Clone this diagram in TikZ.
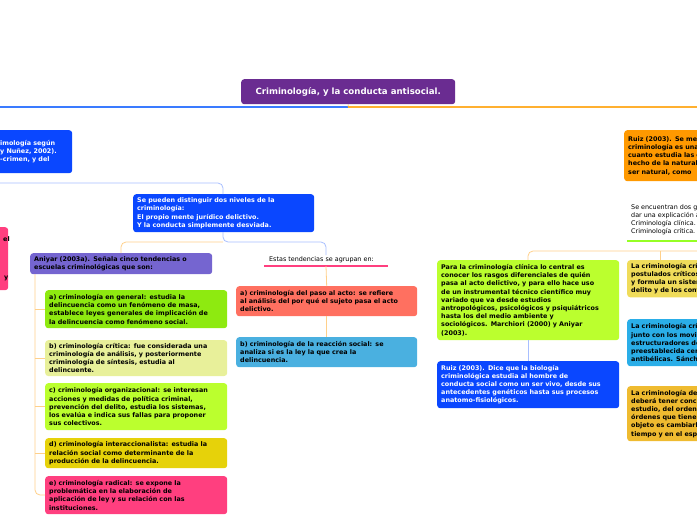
\documentclass[tikz,border=0pt]{standalone}
\usepackage{fontspec}
\setmainfont{DejaVu Sans}
\begin{document}
\begin{tikzpicture}[x=1pt,y=-1pt,
  box/.style={anchor=north west,rounded corners=3pt,inner xsep=4pt,inner ysep=3pt,align=left,font=\fontsize{6.4}{8.2}\selectfont\bfseries,text=black},
  plain/.style={anchor=north west,inner sep=0pt,align=left,font=\fontsize{6.4}{8.2}\selectfont},
  bl/.style={draw=lblue,line width=0.8pt,rounded corners=5pt},
  ol/.style={draw=lora,line width=0.8pt,rounded corners=5pt}]
\definecolor{lblue}{HTML}{A8BFFF}
\definecolor{lora}{HTML}{FFD08A}
\definecolor{mblue}{HTML}{3A7BFF}
\definecolor{mora}{HTML}{FFB030}
\definecolor{cpur}{HTML}{6A2C91}
\definecolor{cblue}{HTML}{0A47FF}
\definecolor{clav}{HTML}{7565D0}
\definecolor{cgr1}{HTML}{8EEA10}
\definecolor{cpale}{HTML}{E8F09A}
\definecolor{clime}{HTML}{BBFF2E}
\definecolor{cmus}{HTML}{E6D20A}
\definecolor{cpink}{HTML}{FF3F7F}
\definecolor{csal}{HTML}{FF7060}
\definecolor{csky}{HTML}{4AB0E0}
\definecolor{cyel}{HTML}{F0DC5A}
\definecolor{cazu}{HTML}{2AAEE8}
\definecolor{cgold}{HTML}{EFBB30}
\definecolor{cora}{HTML}{FF9900}
\useasboundingbox (0,0) rectangle (697,520);
\clip (0,0) rectangle (697,520);
% lines
\coordinate (L0) at (0,107); \coordinate (R0) at (697,107); \coordinate (T0) at (348,107);
\draw[mblue,line width=1.2pt] (L0) -- (T0);
\draw[mora,line width=1.2pt] (T0) -- (R0);
% title
\node[fill=cpur,rounded corners=3pt,minimum width=214pt,minimum height=25pt,anchor=north west] (title) at (241,79) {};
\node[text=white,font=\fontsize{8.6}{10}\selectfont\bfseries] at (title.center) {Criminología, y la conducta antisocial.};
\draw[mora,line width=0.6pt] (title.south) -- (T0);
% left blue
\node[box,fill=cblue,text=white,text width=90pt,minimum height=43pt] (lb) at (-26,130) {\hspace*{22pt}imología según\\\hspace*{22pt}y Nuñez, 2002).\\\hspace*{22pt}-crimen, y del};
% left pink
\node[box,fill=cpink,text width=30pt,minimum height=63pt] (lp) at (-30,227) {\hspace*{29pt}el\\[30pt]\hspace*{30pt}y};
% Se pueden
\node[box,fill=cblue,text=white,text width=173pt,minimum height=38pt] (sp) at (133,194) {Se pueden distinguir dos niveles de la\\criminología:\\El propio mente jurídico delictivo.\\Y la conducta simplemente desviada.};
\coordinate (c1) at (0,183);
\draw[bl] (c1) -- (223,183) -- (sp.north -| 223,0);
% Aniyar
\node[box,fill=clav,text width=174pt,minimum height=21pt,inner ysep=2pt] (an) at (30,253) {Aniyar (2003a). Señala cinco tendencias o\\escuelas criminológicas que son:};
\node[plain] (et) at (269,256) {Estas tendencias se agrupan en:};
\draw[cpink,line width=1.2pt] (264,266) -- (388,266);
\draw[bl] (223,232) -- (223,242) -- (326,242) -- (326,255);
\draw[ol] (223,242) -- (121,242) -- (121,253);
% five boxes
\node[box,fill=cgr1,text width=174pt,minimum height=38pt] (ba) at (45,290) {a) criminología en general: estudia la\\delincuencia como un fenómeno de masa,\\establece leyes generales de implicación de\\la delincuencia como fenómeno social.};
\node[box,fill=cpale,text width=174pt,minimum height=35pt] (bb) at (45,340) {b) criminología crítica: fue considerada una\\criminología de análisis, y posteriormente\\criminología de síntesis, estudia al\\delincuente.};
\node[box,fill=clime,text width=174pt,minimum height=47pt] (bc) at (45,383) {c) criminología organizacional: se interesan\\acciones y medidas de política criminal,\\prevención del delito, estudia los sistemas,\\los evalúa e indica sus fallas para proponer\\sus colectivos.};
\node[box,fill=cmus,text width=174pt,minimum height=30pt] (bd) at (45,438) {d) criminología interaccionalista: estudia la\\relación social como determinante de la\\producción de la delincuencia.};
\node[box,fill=cpink,text width=174pt,minimum height=38pt] (be) at (45,476) {e) criminología radical: se expone la\\problemática en la elaboración de\\aplicación de ley y su relación con las\\instituciones.};
\draw[ol] (35,274) -- (35,495) -- (45,495);
\foreach \n in {ba,bb,bc,bd}{\draw[ol] (35,0 |- \n.west) -- (\n.west);}
% paso / reaccion
\node[box,fill=csal,text width=173pt,minimum height=30pt] (pa) at (236,286) {a) criminología del paso al acto: se refiere\\al análisis del por qué el sujeto pasa el acto\\delictivo.};
\node[box,fill=csky,text width=173pt,minimum height=30pt] (re) at (236,337) {b) criminología de la reacción social: se\\analiza si es la ley la que crea la\\delincuencia.};
\draw[ol] (326,266) -- (pa.north);
\draw[ol] (pa.south) -- (re.north);
% right side
\node[box,fill=cora,text width=120pt,minimum height=51pt] (ro) at (624,130) {Ruiz (2003). Se menciona que la\\criminología es una ciencia en\\cuanto estudia las causas del\\hecho de la naturaleza como\\ser natural, como};
\node[plain] (sc) at (631,204) {Se encuentran dos grupos para\\dar una explicación a la\\Criminología clínica.\\Criminología crítica.};
\draw[clime!80!green,line width=1.5pt] (627,241) -- (697,241);
\draw[ol] (528,260) -- (528,251) -- (697,251);
\draw[ol] (660,251) -- (660,260);
\node[box,fill=clime,text width=174pt,minimum height=80pt] (cl) at (437,260) {Para la criminología clínica lo central es\\conocer los rasgos diferenciales de quién\\pasa al acto delictivo, y para ello hace uso\\de un instrumental técnico científico muy\\variado que va desde estudios\\antropológicos, psicológicos y psiquiátricos\\hasta los del medio ambiente y\\sociológicos. Marchiori (2000) y Aniyar\\(2003).};
\node[box,fill=cblue,text=white,text width=174pt,minimum height=47pt] (ru) at (437,361) {Ruiz (2003). Dice que la biología\\criminológica estudia al hombre de\\conducta social como un ser vivo, desde sus\\antecedentes genéticos hasta sus procesos\\anatomo-fisiológicos.};
\draw[bl] (cl.south) -- (ru.north);
\node[box,fill=cyel,text width=174pt,minimum height=37pt] (y1) at (627,260) {La criminología crítica retoma los\\postulados críticos\\y formula un sistema del\\delito y de los controles};
\node[box,fill=cazu,text width=174pt,minimum height=47pt] (y2) at (627,319) {La criminología crítica\\junto con los movimientos\\estructuradores del orden\\preestablecida cerrado\\antibélicas. Sánchez};
\node[box,fill=cgold,text width=174pt,minimum height=55pt] (y3) at (627,386) {La criminología de la\\deberá tener conciencia\\estudio, del orden social\\órdenes que tiene como\\objeto es cambiarlos\\tiempo y en el espacio};
\end{tikzpicture}
\end{document}
